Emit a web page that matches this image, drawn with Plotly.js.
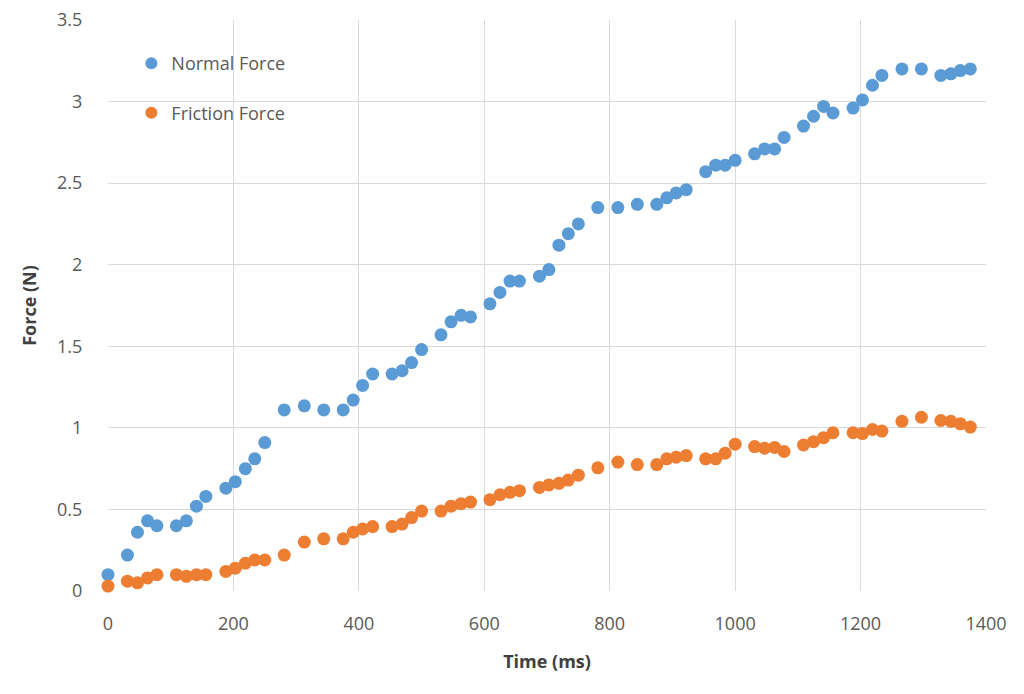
<!DOCTYPE html>
<html>
<head>
<meta charset="utf-8">
<script src="https://cdn.plot.ly/plotly-3.0.1.min.js"></script>
<style>html,body{margin:0;padding:0;background:#fff;}#chart{width:1024px;height:694px;}</style>
</head>
<body>
<div id="chart"></div>
<script>
var timeMs = [0, 31, 47, 63, 78, 109, 125, 141, 156, 188, 203, 219, 234, 250, 281, 313, 344, 375, 391, 406, 422, 453, 469, 484, 500, 531, 547, 563, 578, 609, 625, 641, 656, 688, 703, 719, 734, 750, 781, 813, 844, 875, 891, 906, 922, 953, 969, 984, 1000, 1031, 1047, 1063, 1078, 1109, 1125, 1141, 1156, 1188, 1203, 1219, 1234, 1266, 1297, 1328, 1344, 1359, 1375];
var normalForce = [0.10, 0.22, 0.36, 0.43, 0.40, 0.40, 0.43, 0.52, 0.58, 0.63, 0.67, 0.75, 0.81, 0.91, 1.11, 1.135, 1.11, 1.11, 1.17, 1.26, 1.33, 1.33, 1.35, 1.40, 1.48, 1.57, 1.65, 1.69, 1.68, 1.76, 1.83, 1.90, 1.90, 1.93, 1.97, 2.12, 2.19, 2.25, 2.35, 2.35, 2.37, 2.37, 2.41, 2.44, 2.46, 2.57, 2.61, 2.61, 2.64, 2.68, 2.71, 2.71, 2.78, 2.85, 2.91, 2.97, 2.93, 2.96, 3.01, 3.10, 3.16, 3.20, 3.20, 3.16, 3.17, 3.19, 3.20];
var frictionForce = [0.03, 0.06, 0.05, 0.08, 0.10, 0.10, 0.09, 0.10, 0.10, 0.12, 0.14, 0.17, 0.19, 0.19, 0.22, 0.30, 0.32, 0.32, 0.36, 0.38, 0.395, 0.395, 0.41, 0.45, 0.49, 0.49, 0.52, 0.535, 0.545, 0.56, 0.59, 0.605, 0.615, 0.635, 0.65, 0.66, 0.68, 0.71, 0.755, 0.79, 0.775, 0.775, 0.81, 0.82, 0.83, 0.81, 0.81, 0.845, 0.90, 0.885, 0.875, 0.88, 0.855, 0.895, 0.915, 0.94, 0.97, 0.97, 0.965, 0.99, 0.98, 1.04, 1.065, 1.045, 1.04, 1.025, 1.005];
var seriesNames = ["Normal Force", "Friction Force"];
var xTitle = "Time (ms)";
var yTitle = "Force (N)";

var fontFam = "'Open Sans', 'DejaVu Sans', sans-serif";
var traces = [
  {x: timeMs, y: normalForce, name: seriesNames[0], type: 'scatter', mode: 'markers', cliponaxis: false,
   legendgroup: 'a', marker: {color: '#5B9BD5', size: 13}},
  {x: timeMs, y: frictionForce, name: seriesNames[1], type: 'scatter', mode: 'markers', cliponaxis: false,
   legendgroup: 'b', marker: {color: '#ED7D31', size: 13}}
];
var layout = {
  width: 1024, height: 694,
  margin: {l: 108, r: 38, t: 20, b: 103},
  paper_bgcolor: '#fff', plot_bgcolor: '#fff',
  font: {family: fontFam, size: 18, color: '#595959'},
  showlegend: true,
  legend: {x: 0.0266, y: 0.956, xanchor: 'left', yanchor: 'top', bgcolor: 'rgba(0,0,0,0)',
           font: {size: 18, color: '#595959'}, tracegroupgap: 23, itemsizing: 'constant'},
  xaxis: {range: [0, 1400], dtick: 200, tick0: 0, showgrid: true, gridcolor: '#d9d9d9', gridwidth: 1,
          zeroline: false, showline: false, ticks: 'outside', ticklen: 16, tickcolor: 'rgba(0,0,0,0)',
          tickfont: {size: 18, color: '#595959'},
          title: {text: xTitle, font: {size: 18, color: '#404040', weight: 'bold'}, standoff: 21}},
  yaxis: {range: [0, 3.5], dtick: 0.5, tick0: 0, showgrid: true, gridcolor: '#d9d9d9', gridwidth: 1,
          zeroline: false, showline: false, ticks: 'outside', ticklen: 21, tickcolor: 'rgba(0,0,0,0)',
          tickfont: {size: 18, color: '#595959'},
          title: {text: yTitle, font: {size: 18, color: '#404040', weight: 'bold'}, standoff: 15}}
};
Plotly.newPlot('chart', traces, layout, {displayModeBar: false, staticPlot: true});
</script>
</body>
</html>
